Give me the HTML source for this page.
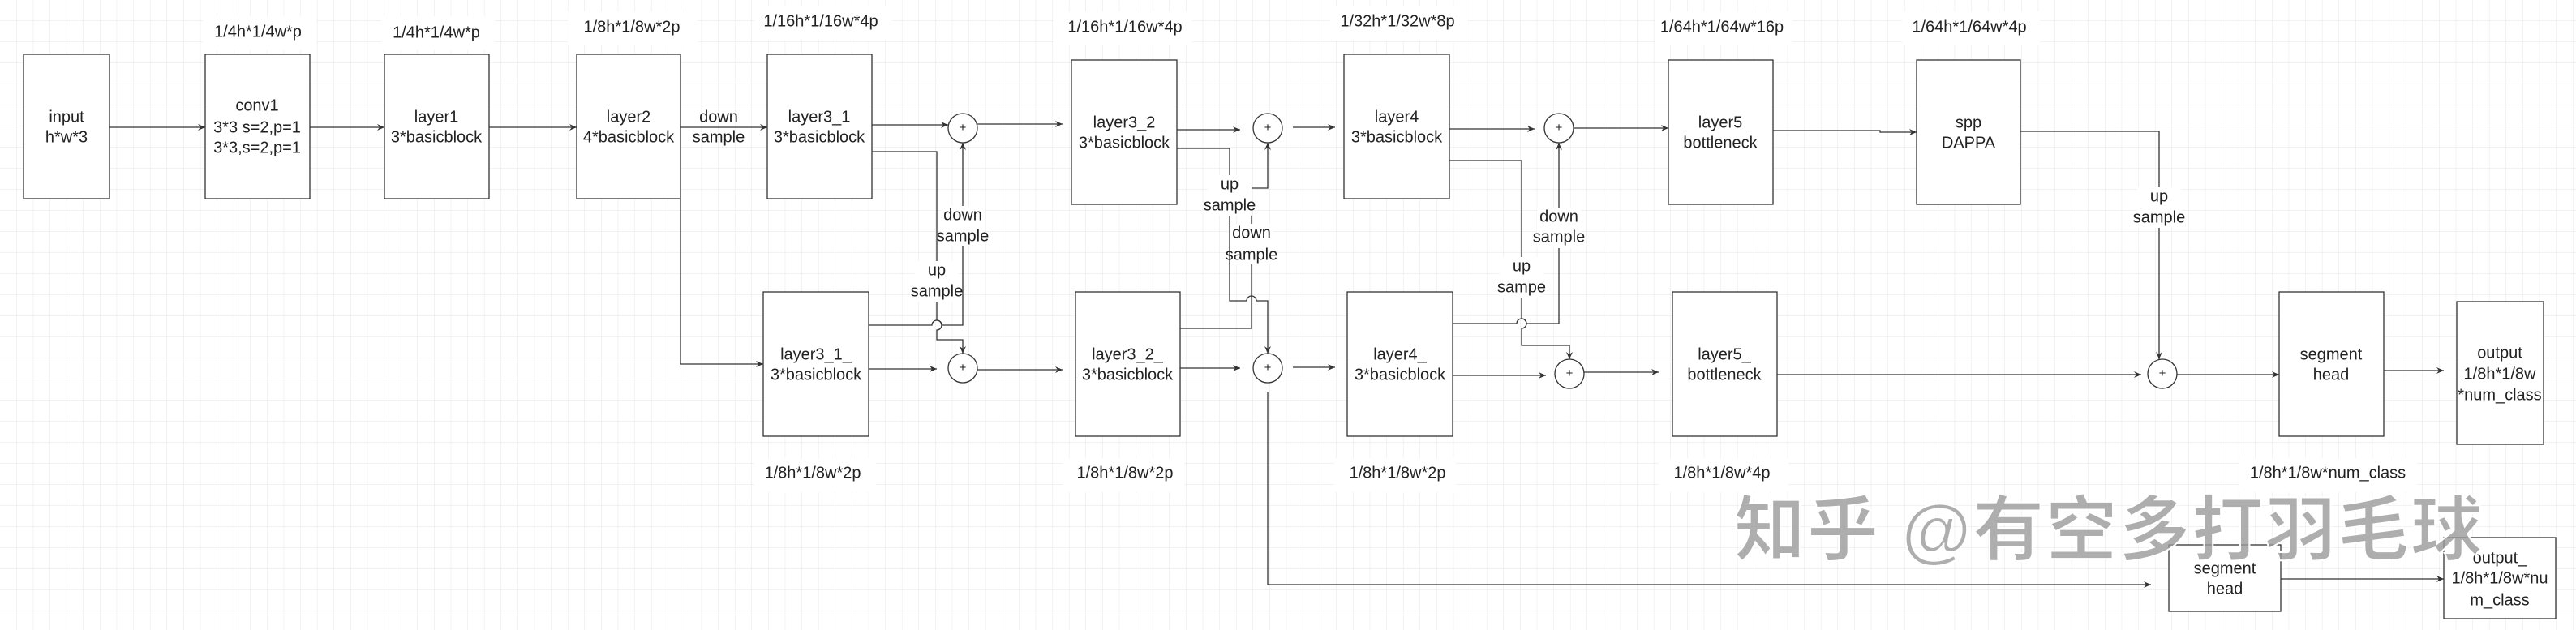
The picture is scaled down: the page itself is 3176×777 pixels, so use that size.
<!DOCTYPE html>
<html><head><meta charset="utf-8"><style>
html,body{margin:0;padding:0;background:#fff;}
svg{display:block;}
text{font-family:"Liberation Sans","Noto Sans CJK SC",sans-serif;font-size:20px;fill:#222;}
</style></head><body>
<svg width="3176" height="777" viewBox="0 0 3176 777" xmlns="http://www.w3.org/2000/svg">
<defs>
<pattern id="g" width="20.6" height="26" patternUnits="userSpaceOnUse">
<path d="M20.6 0V26M0 26H20.6" fill="none" stroke="#e6e6e6" stroke-width="1"/>
</pattern>
<marker id="a" markerWidth="10" markerHeight="10" refX="9" refY="5" orient="auto" markerUnits="userSpaceOnUse">
<path d="M0 1L9 5L0 9L3 5Z" fill="#333"/>
</marker>
</defs>
<rect width="3176" height="777" fill="url(#g)"/>
<g fill="#fff">
<rect x="250" y="20" width="140" height="42"/><rect x="470" y="20" width="140" height="42"/>
<rect x="700" y="14" width="160" height="42"/><rect x="930" y="8" width="170" height="42"/>
<rect x="1300" y="14" width="170" height="42"/><rect x="1640" y="8" width="170" height="42"/>
<rect x="2040" y="14" width="170" height="42"/><rect x="2345" y="14" width="170" height="42"/>
<rect x="930" y="565" width="150" height="42"/><rect x="1310" y="565" width="150" height="42"/>
<rect x="1645" y="565" width="150" height="42"/><rect x="2045" y="565" width="160" height="42"/>
<rect x="2760" y="565" width="220" height="42"/>
</g>
<g fill="#fff" stroke="#333" stroke-width="1.3">
<rect x="29" y="67" width="106" height="178"/>
<rect x="253" y="67" width="129" height="178"/>
<rect x="474" y="67" width="129" height="178"/>
<rect x="711" y="67" width="128" height="178"/>
<rect x="946" y="67" width="129" height="178"/>
<rect x="941" y="360" width="130" height="178"/>
<rect x="1321" y="74" width="130" height="178"/>
<rect x="1326" y="360" width="129" height="178"/>
<rect x="1657" y="67" width="130" height="178"/>
<rect x="1661" y="360" width="130" height="178"/>
<rect x="2057" y="74" width="129" height="178"/>
<rect x="2062" y="360" width="129" height="178"/>
<rect x="2363" y="74" width="128" height="178"/>
<rect x="2810" y="360" width="129" height="178"/>
<rect x="3029" y="372" width="107" height="176"/>
<rect x="2674" y="672" width="138" height="82"/>
<rect x="3013" y="663" width="138" height="100"/>
<circle cx="1187" cy="158" r="18"/><circle cx="1187" cy="454" r="18"/>
<circle cx="1563" cy="158" r="18"/><circle cx="1563" cy="454" r="18"/>
<circle cx="1922" cy="158" r="18"/><circle cx="1935" cy="461" r="18"/>
<circle cx="2666" cy="461" r="18"/>
</g>
<g fill="none" stroke="#333" stroke-width="1.3" marker-end="url(#a)">
<path d="M135 157H253"/><path d="M382 157H474"/><path d="M603 157H711"/><path d="M839 157H946"/>
<path d="M839 245V449H941"/>
<path d="M1075 154H1169"/><path d="M1205 153H1310"/>
<path d="M1075 187H1155V395a6 6 0 0 1 0 12V419H1187V436"/>
<path d="M1071 401H1149a6 6 0 0 1 12 0H1187V176"/>
<path d="M1071 455H1155"/><path d="M1205 456H1310"/>
<path d="M1451 160H1529"/>
<path d="M1451 183H1516V371H1537a6 6 0 0 1 12 0H1563V436"/>
<path d="M1455 405H1543V232H1563V176"/>
<path d="M1455 454H1529"/>
<path d="M1594 157H1646"/><path d="M1594 453H1646"/>
<path d="M1787 159H1892"/>
<path d="M1787 198H1876V393a6 6 0 0 1 0 12V426H1935V443"/>
<path d="M1791 399H1870a6 6 0 0 1 12 0H1922V176"/>
<path d="M1791 463H1906"/><path d="M1953 459H2045"/>
<path d="M1940 158H2057"/>
<path d="M2186 161H2318V163H2363"/>
<path d="M2491 162H2662V443"/>
<path d="M2191 462H2640"/><path d="M2684 462H2810"/>
<path d="M2939 457H3013"/>
<path d="M1563 483V721H2652"/>
<path d="M2812 714H3013"/>
</g>
<g text-anchor="middle" dominant-baseline="middle">
<text x="318" y="40">1/4h*1/4w*p</text><text x="538" y="41">1/4h*1/4w*p</text>
<text x="779" y="34">1/8h*1/8w*2p</text><text x="1012" y="27">1/16h*1/16w*4p</text>
<text x="1387" y="34">1/16h*1/16w*4p</text><text x="1723" y="27">1/32h*1/32w*8p</text>
<text x="2123" y="34">1/64h*1/64w*16p</text><text x="2428" y="34">1/64h*1/64w*4p</text>
<text x="1002" y="584">1/8h*1/8w*2p</text><text x="1387" y="584">1/8h*1/8w*2p</text>
<text x="1723" y="584">1/8h*1/8w*2p</text><text x="2123" y="584">1/8h*1/8w*4p</text>
<text x="2870" y="584">1/8h*1/8w*num_class</text>
<text x="82" y="145">input</text><text x="82" y="170">h*w*3</text>
<text x="317" y="131">conv1</text><text x="317" y="158">3*3 s=2,p=1</text><text x="317" y="183">3*3,s=2,p=1</text>
<text x="538" y="145">layer1</text><text x="538" y="170">3*basicblock</text>
<text x="775" y="145">layer2</text><text x="775" y="170">4*basicblock</text>
<text x="886" y="145">down</text><text x="886" y="170">sample</text>
<text x="1010" y="145">layer3_1</text><text x="1010" y="170">3*basicblock</text>
<text x="1006" y="438">layer3_1_</text><text x="1006" y="463">3*basicblock</text>
<text x="1386" y="152">layer3_2</text><text x="1386" y="177">3*basicblock</text>
<text x="1390" y="438">layer3_2_</text><text x="1390" y="463">3*basicblock</text>
<text x="1722" y="145">layer4</text><text x="1722" y="170">3*basicblock</text>
<text x="1726" y="438">layer4_</text><text x="1726" y="463">3*basicblock</text>
<text x="2121" y="152">layer5</text><text x="2121" y="177">bottleneck</text>
<text x="2126" y="438">layer5_</text><text x="2126" y="463">bottleneck</text>
<text x="2427" y="152">spp</text><text x="2427" y="177">DAPPA</text>
<text x="2874" y="438">segment</text><text x="2874" y="463">head</text>
<text x="3082" y="436">output</text><text x="3082" y="462">1/8h*1/8w</text><text x="3082" y="488">*num_class</text>
<text x="2743" y="702">segment</text><text x="2743" y="727">head</text>
<text x="3082" y="689">output_</text><text x="3082" y="714">1/8h*1/8w*nu</text><text x="3082" y="741">m_class</text>
<text x="1187" y="158" style="font-size:15px">+</text><text x="1187" y="454" style="font-size:15px">+</text>
<text x="1563" y="158" style="font-size:15px">+</text><text x="1563" y="454" style="font-size:15px">+</text>
<text x="1922" y="158" style="font-size:15px">+</text><text x="1935" y="461" style="font-size:15px">+</text>
<text x="2666" y="461" style="font-size:15px">+</text>
</g>
<g text-anchor="middle" dominant-baseline="middle">
<rect x="1160" y="254" width="54" height="50" fill="#fff"/>
<text x="1187" y="266">down</text><text x="1187" y="292">sample</text>
<rect x="1128" y="322" width="54" height="50" fill="#fff"/>
<text x="1155" y="334">up</text><text x="1155" y="360">sample</text>
<rect x="1489" y="216" width="54" height="50" fill="#fff"/>
<text x="1516" y="228">up</text><text x="1516" y="254">sample</text>
<rect x="1516" y="276" width="54" height="50" fill="#fff"/>
<text x="1543" y="288">down</text><text x="1543" y="315">sample</text>
<rect x="1849" y="317" width="54" height="50" fill="#fff"/>
<text x="1876" y="329">up</text><text x="1876" y="355">sampe</text>
<rect x="1895" y="256" width="54" height="50" fill="#fff"/>
<text x="1922" y="268">down</text><text x="1922" y="293">sample</text>
<rect x="2635" y="231" width="54" height="50" fill="#fff"/>
<text x="2662" y="243">up</text><text x="2662" y="269">sample</text>
</g>
<text x="2138" y="684" style="font-size:88px;font-weight:bold;font-family:'Liberation Sans','Noto Sans CJK SC',sans-serif;fill:#9a9a9a;fill-opacity:0.8;stroke:#fff;stroke-width:2;letter-spacing:2px">知乎 @有空多打羽毛球</text>
</svg>
</body></html>
